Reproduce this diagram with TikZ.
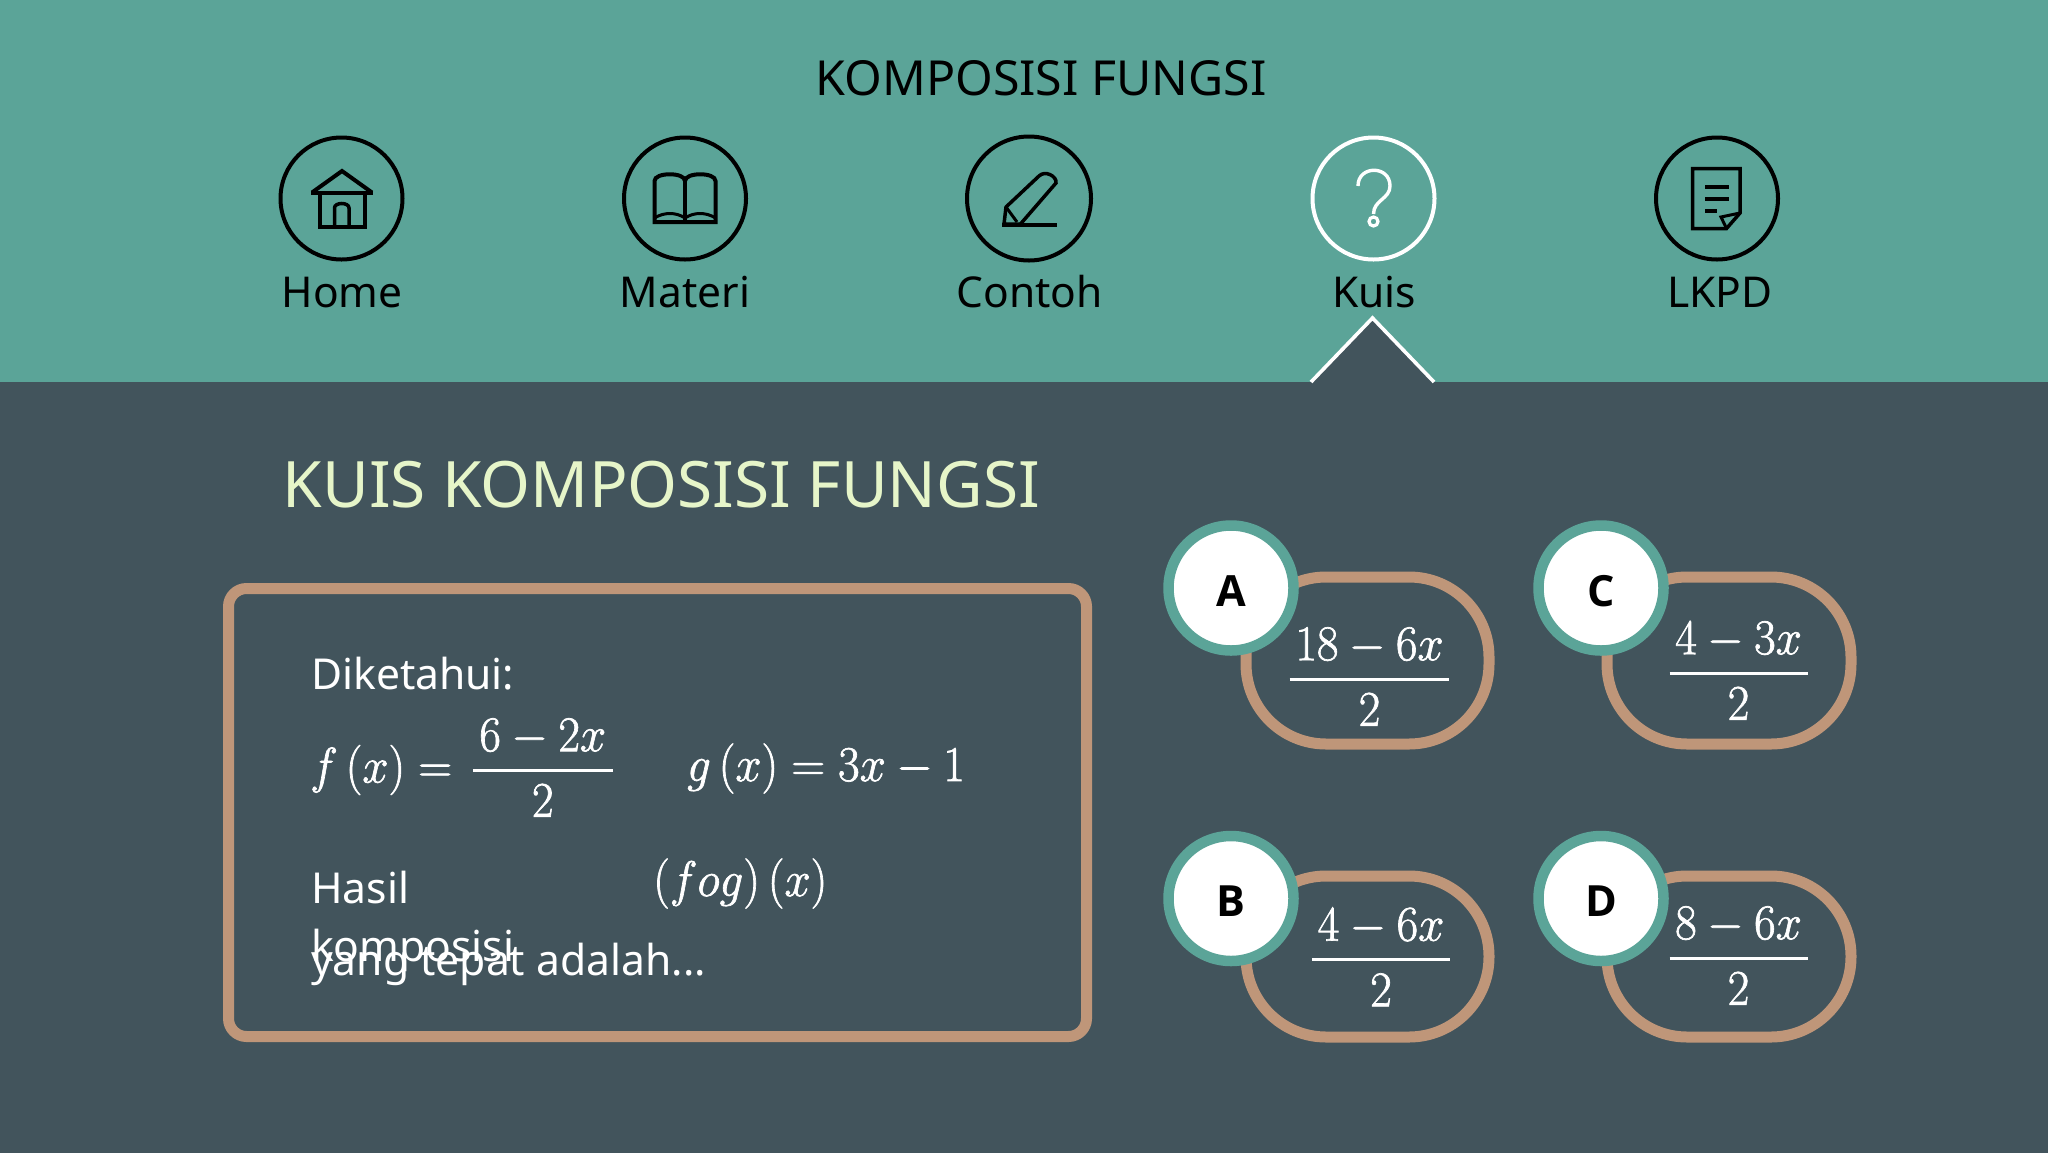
\RequirePackage{fix-cm}
\documentclass[tikz,border=0pt]{standalone}
\usepackage{amsmath}
\usepackage{graphicx}
\usepackage{fontspec}
\setmainfont{Noto Sans}
\newfontfamily\badgefont{Open Sans}
\definecolor{bandc}{HTML}{5BA498}
\definecolor{darkc}{HTML}{42545C}
\definecolor{tanc}{HTML}{BF9679}
\definecolor{headc}{HTML}{E6F5C9}
\newcommand{\px}[1]{\fontsize{#1}{#1}\selectfont}
\newcommand{\fr}[3][0pt]{\genfrac{}{}{3pt}{0}{\raisebox{-2.5pt}{$\kern#1 #2\kern#1$}}{#3}}
\newcommand{\mth}[1]{\special{pdf:code q 1 1 1 RG 2 Tr 0.7 w}\scalebox{.94}[1]{$#1$}\special{pdf:code 0 Tr Q}}
\tikzset{
  x=1pt,y=-1pt,
  txt/.style={anchor=base west,inner sep=0pt,font=\px{42.6}},
  navlabel/.style={anchor=base,inner sep=0pt,font=\px{42.5},text=black},
  navring/.style={circle,draw=#1,line width=4pt,minimum size=122pt,inner sep=0pt},
  icon/.style={draw=black,line width=4pt,line join=miter},
  frame/.style={draw=tanc,line width=11pt},
  pill/.style={frame,line width=11pt,rounded corners=80pt},
  badge/.style={circle,draw=bandc,fill=white,line width=10.5pt,minimum size=125pt,inner sep=0pt},
  badgetxt/.style={anchor=base,inner sep=0pt,font=\badgefont\bfseries\px{43},text=black},
  mathtxt/.style={anchor=base,inner sep=0pt,text=white,font=\px{50}},
}
\begin{document}
\begin{tikzpicture}
\useasboundingbox (0,0) rectangle (2048,1152);
\fill[darkc] (-3,-3) rectangle (2052,1156);
\fill[bandc] (-3,-3) rectangle (2052,381.5);
% pointer
\fill[darkc] (1311,382) -- (1372.5,318) -- (1434,382) -- cycle;
\draw[white,line width=3.6pt,line join=miter] (1311,382) -- (1372.5,318) -- (1434,382);
% title
\node[anchor=base,inner sep=0pt,font=\px{48.3},text=black] (title) at (1041,95) {KOMPOSISI FUNGSI};
% nav rings
\node[navring=black] (home) at (341.5,198.5) {};
\node[navring=black] (materi) at (685,198.5) {};
\node[navring=black,minimum size=124pt] (contoh) at (1029,198.5) {};
\node[navring=white] (kuis) at (1373.5,198.5) {};
\node[navring=black] (lkpd) at (1717,198.5) {};
\node[navlabel] (lhome) at (342,307) {Home};
\node[navlabel] (lmateri) at (685,307) {Materi};
\node[navlabel] (lcontoh) at (1029.5,307) {Contoh};
\node[navlabel] (lkuis) at (1374,307) {Kuis};
\node[navlabel] (llkpd) at (1720,307) {LKPD};
% home icon
\draw[icon] (311,192.5) -- (373,192.5);
\draw[icon] (312,192.5) -- (342,171) -- (372,192.5);
\draw[icon] (319.5,192.5) -- (319.5,226.5) -- (364.5,226.5) -- (364.5,192.5);
\draw[icon,line width=3.5pt] (334.5,226.5) -- (334.5,208) .. controls (334.5,202) and (349,202) .. (349,208) -- (349,226.5);
% book icon
\draw[icon] (654.5,222) -- (654.5,181) .. controls (654.5,172) and (685,172) .. (685,181) .. controls (685,172) and (715.5,172) .. (715.5,181) -- (715.5,222) -- cycle;
\draw[icon] (685,181) -- (685,222);
\draw[icon,line width=3pt] (654.5,218) .. controls (664,212) and (676,212) .. (685,218) .. controls (694,212) and (706,212) .. (715.5,218);
% pencil icon
\draw[icon] (1002,225) -- (1057,225);
\draw[icon,line width=3.5pt] (1004,224) -- (1006,207) -- (1039,176) .. controls (1045,170) and (1057,176) .. (1056,183) -- (1020.5,224) -- cycle;
\draw[icon,line width=3pt] (1006,207) -- (1017,222);
% question icon
\draw[white,line width=3.4pt] (1358,186) .. controls (1358,165) and (1390,165) .. (1390,186) .. controls (1390,199) and (1373.5,200) .. (1373.5,214);
\draw[white,line width=3.2pt] (1373.5,221.5) circle[radius=4.5];
% document icon
\draw[icon,line width=3.5pt] (1692.5,168.5) -- (1740,168.5) -- (1740,213) -- (1726.5,228.5) -- (1692.5,228.5) -- cycle;
\draw[icon,line width=3pt] (1740,213) -- (1721,217) -- (1726.5,228.5);
\draw[icon] (1705,186.5) -- (1729,186.5);
\draw[icon] (1705,198.5) -- (1729,198.5);
\draw[icon] (1705,210.5) -- (1717,210.5);
% heading
\node[txt,font=\px{64},text=headc] (head) at (282.5,507.5) {KUIS KOMPOSISI FUNGSI};
% question box
\draw[frame,rounded corners=18pt] (228.5,588.5) rectangle (1086.5,1036.5);
\node[txt,text=white] (dik) at (311,689) {Diketahui:};
\node[mathtxt,anchor=base west] (fx) at (310,782.5) {\mth{f\left(x\right)=\kern7pt\fr[7pt]{6-2x}{2}}};
\node[mathtxt,anchor=base west] (gx) at (687,781) {\mth{g\left(x\right)=3x-1}};
\node[txt,text=white] (hasil) at (311,903) {Hasil};
\node[txt,text=white] (komp) at (311,961) {komposisi};
\node[txt,text=white] (yang) at (311,975) {yang tepat adalah...};
\node[mathtxt,anchor=base west] (fog) at (653,896) {\mth{\left(fog\right)\left(x\right)}};
% option pills
\draw[pill] (1246,577) rectangle (1489,744);
\draw[pill] (1607,577) rectangle (1851,744);
\draw[pill] (1246,876) rectangle (1489,1037);
\draw[pill] (1607,876) rectangle (1851,1037);
% option fractions
\node[mathtxt] (fa) at (1369.5,691.5) {\mth{\fr[6pt]{18-6x}{2}}};
\node[mathtxt] (fc) at (1738.5,685.5) {\mth{\fr[6pt]{4-3x}{2}}};
\node[mathtxt] (fb) at (1381,972) {\mth{\fr[6pt]{4-6x}{2}}};
\node[mathtxt] (fd) at (1738.5,970.5) {\mth{\fr[6pt]{8-6x}{2}}};
% badges
\node[badge] (ba) at (1231,588) {};
\node[badge] (bc) at (1601,588) {};
\node[badge] (bb) at (1231,898.5) {};
\node[badge] (bd) at (1601,898.5) {};
\node[badgetxt] (ta) at (ba.center) [yshift=-18pt] {A};
\node[badgetxt] (tc) at (bc.center) [yshift=-18pt] {C};
\node[badgetxt] (tb) at (bb.center) [yshift=-18pt] {B};
\node[badgetxt] (td) at (bd.center) [yshift=-18pt] {D};
\end{tikzpicture}
\end{document}
